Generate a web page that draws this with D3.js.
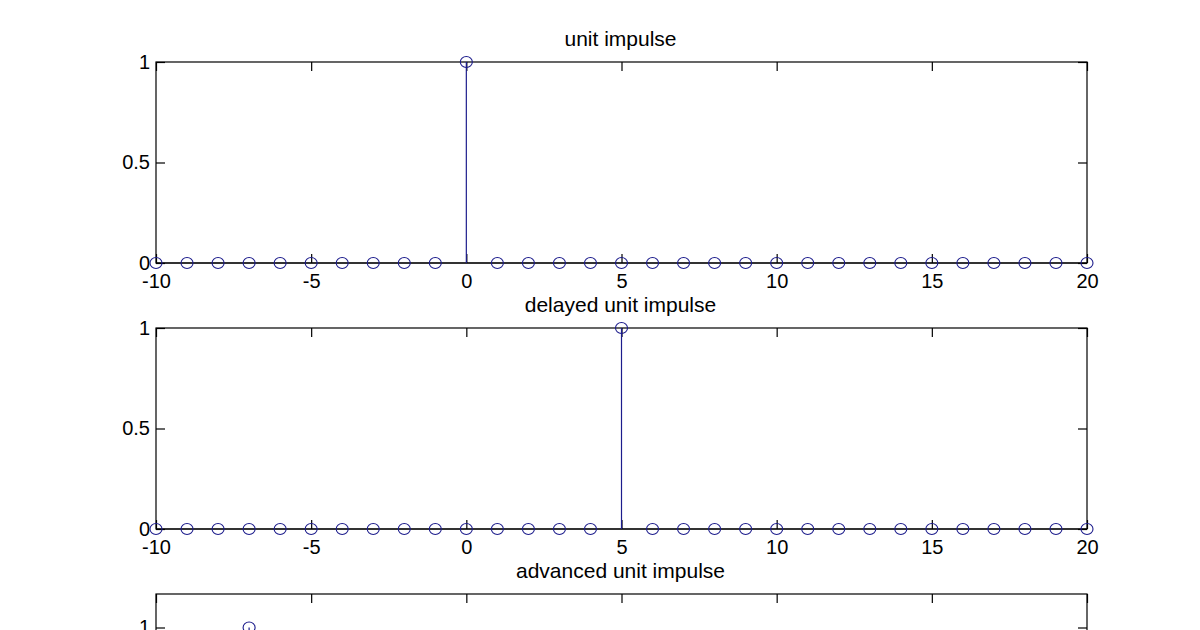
<!DOCTYPE html>
<html>
<head>
<meta charset="utf-8">
<script src="https://cdn.jsdelivr.net/npm/d3@7"></script>
<style>
html,body{margin:0;padding:0;background:#fff;overflow:hidden;}
svg{display:block;}
text{font-family:"Liberation Sans",Arial,sans-serif;fill:#000;}
</style>
</head>
<body>
<svg id="chart" width="1200" height="630"></svg>
<script>
// Data
const n = [-10,-9,-8,-7,-6,-5,-4,-3,-2,-1,0,1,2,3,4,5,6,7,8,9,10,11,12,13,14,15,16,17,18,19,20];
const unitImpulse =     [0,0,0,0,0,0,0,0,0,0,1,0,0,0,0,0,0,0,0,0,0,0,0,0,0,0,0,0,0,0,0];
const delayedImpulse =  [0,0,0,0,0,0,0,0,0,0,0,0,0,0,0,1,0,0,0,0,0,0,0,0,0,0,0,0,0,0,0];
const advancedImpulse = [0,0,0,1,0,0,0,0,0,0,0,0,0,0,0,0,0,0,0,0,0,0,0,0,0,0,0,0,0,0,0];
const titles = ["unit impulse","delayed unit impulse","advanced unit impulse"];
const xTicks = [-10,-5,0,5,10,15,20];
const yTicks = [0,0.5,1];

const W = 1200, H = 630;
const svg = d3.select("#chart");
const left = 156, right = 1087, plotH = 201;
const tops = [62, 328, 594];
const series = [unitImpulse, delayedImpulse, advancedImpulse];
const yDomains = [[0,1],[0,1],[0,1.2]];
const stemColor = "#1c1c8c";
const tickLen = 9;

const x = d3.scaleLinear().domain([-10,20]).range([left,right]);

series.forEach((vals, i) => {
  const top = tops[i], bottom = top + plotH;
  const y = d3.scaleLinear().domain(yDomains[i]).range([bottom, top]);
  const g = svg.append("g");

  // title
  g.append("text").attr("x", (left+right)/2 - 1).attr("y", top - 16)
    .attr("text-anchor","middle").attr("font-size", 21).text(titles[i]);

  // box
  g.append("rect").attr("x", left).attr("y", top).attr("width", right-left).attr("height", plotH)
    .attr("fill","none").attr("stroke","#000").attr("stroke-width",1.2);

  const fmt = d => String(d);
  const gxb = g.append("g").attr("transform",`translate(0,${bottom})`)
    .call(d3.axisBottom(x).tickValues(xTicks).tickSize(-tickLen).tickFormat(fmt));
  const gxt = g.append("g").attr("transform",`translate(0,${top})`)
    .call(d3.axisTop(x).tickValues(xTicks).tickSize(-tickLen).tickFormat(""));
  const gyl = g.append("g").attr("transform",`translate(${left},0)`)
    .call(d3.axisLeft(y).tickValues(yTicks).tickSize(-tickLen).tickFormat(fmt));
  const gyr = g.append("g").attr("transform",`translate(${right},0)`)
    .call(d3.axisRight(y).tickValues(yTicks).tickSize(-tickLen).tickFormat(""));
  [gxb,gxt,gyl,gyr].forEach(a => {
    a.select(".domain").remove();
    a.selectAll(".tick line").attr("stroke","#000").attr("stroke-width",1.2);
    a.selectAll(".tick text").attr("font-size",20).attr("fill","#000")
      .attr("font-family","Liberation Sans, Arial, sans-serif");
  });
  gxb.selectAll(".tick text").attr("dy","0.71em").attr("y", 11);
  gyl.selectAll(".tick text").attr("x", -6);
  // drop labels that fall outside the window (the reference shows none there)
  if (bottom + 11 > H) gxb.selectAll(".tick text").remove();
  gyl.selectAll(".tick").filter(d => y(d) - 8 > H).select("text").remove();

  // baseline
  g.append("line").attr("x1",left).attr("x2",right).attr("y1",y(0)).attr("y2",y(0))
    .attr("stroke","#000").attr("stroke-width",1.2);

  const pts = n.map((d,k)=>({n:d,v:vals[k]}));
  // stems
  g.selectAll("line.stem").data(pts.filter(d=>d.v!==0))
    .enter().append("line").attr("class","stem")
    .attr("x1",d=>x(d.n)).attr("x2",d=>x(d.n)).attr("y1",y(0)).attr("y2",d=>y(d.v))
    .attr("stroke",stemColor).attr("stroke-width",1.2);

  // markers
  g.selectAll("ellipse.mk").data(pts)
    .enter().append("ellipse").attr("class","mk")
    .attr("cx",d=>x(d.n)).attr("cy",d=>y(d.v)).attr("rx",6).attr("ry",5.5)
    .attr("fill","none").attr("stroke",stemColor).attr("stroke-width",1.1);
});
</script>
</body>
</html>
